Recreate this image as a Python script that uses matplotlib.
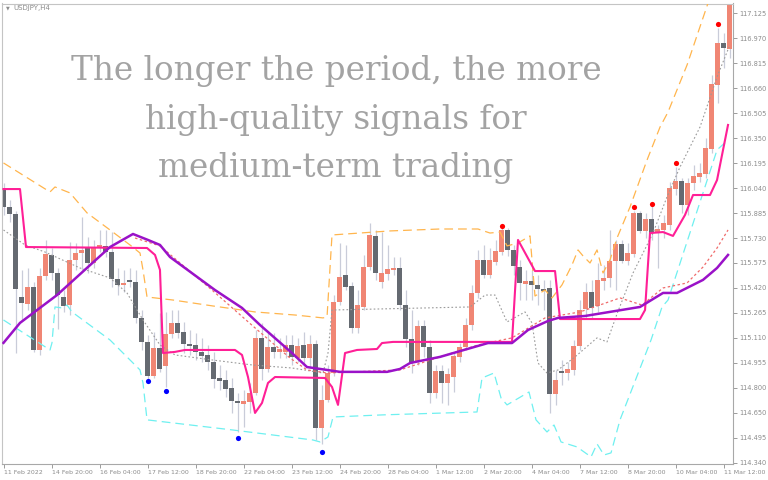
import matplotlib
matplotlib.use("Agg")
import matplotlib.pyplot as plt

# USDJPY H4 candles, bar 0 = 11 Feb 2022 12:00
opens = [116.040, 115.923, 115.879, 115.364, 115.321, 115.426, 115.035, 115.494, 115.625, 115.513,
         115.364, 115.314, 115.594, 115.639, 115.668, 115.575, 115.668, 115.680, 115.643, 115.476,
         115.438, 115.470, 115.457, 115.234, 115.085, 114.874, 115.047, 114.936, 115.134, 115.203,
         115.147, 115.072, 115.066, 115.023, 115.004, 114.961, 114.861, 114.849, 114.799, 114.718,
         114.700, 114.712, 114.768, 115.110, 114.917, 115.054, 115.023, 115.023, 115.066, 114.985,
         115.066, 114.985, 115.072, 114.551, 114.725, 114.892, 115.333, 115.501, 115.432, 115.172,
         115.302, 115.550, 115.743, 115.457, 115.507, 115.532, 115.544, 115.314, 115.103, 114.961,
         115.184, 115.054, 114.768, 114.905, 114.830, 114.867, 114.992, 115.054, 115.190, 115.389,
         115.594, 115.501, 115.581, 115.643, 115.780, 115.656, 115.550, 115.445, 115.463, 115.438,
         115.414, 115.420, 114.762, 114.905, 114.892, 114.911, 115.060, 115.289, 115.395, 115.308,
         115.463, 115.482, 115.588, 115.693, 115.588, 115.631, 115.885, 115.774, 115.848, 115.767,
         115.780, 115.811, 116.034, 116.084, 115.935, 116.071, 116.109, 116.127, 116.283, 116.680,
         116.941, 116.904]
highs = [116.072, 115.966, 115.898, 115.532, 115.544, 115.457, 115.544, 115.718, 115.668, 115.544,
         115.407, 115.705, 115.699, 115.861, 115.736, 115.718, 115.780, 115.780, 115.767, 115.544,
         115.532, 115.544, 115.532, 115.283, 115.128, 115.147, 115.264, 115.271, 115.283, 115.283,
         115.209, 115.159, 115.141, 115.110, 115.066, 115.023, 114.942, 114.911, 114.861, 114.768,
         114.787, 114.830, 115.159, 115.203, 115.141, 115.141, 115.110, 115.128, 115.128, 115.110,
         115.147, 115.128, 115.097, 114.818, 114.942, 115.376, 115.699, 115.687, 115.457, 115.407,
         115.625, 115.823, 115.780, 115.767, 115.687, 115.612, 115.612, 115.407, 115.283, 115.221,
         115.221, 115.097, 114.942, 114.942, 114.923, 115.016, 115.079, 115.233, 115.438, 115.656,
         115.687, 115.668, 115.718, 115.792, 115.792, 115.687, 115.594, 115.532, 115.532, 115.501,
         115.470, 115.470, 114.911, 114.973, 114.961, 115.097, 115.345, 115.451, 115.470, 115.575,
         115.563, 115.780, 115.718, 115.718, 115.699, 115.898, 115.898, 115.885, 115.929, 115.811,
         115.873, 116.078, 116.171, 116.103, 116.103, 116.183, 116.196, 116.351, 116.742, 117.034,
         117.003, 117.270]
lows = [115.873, 115.829, 115.016, 115.221, 115.283, 115.023, 115.004, 115.470, 115.470, 115.165,
        115.271, 115.252, 115.532, 115.532, 115.513, 115.544, 115.643, 115.612, 115.426, 115.376,
        115.395, 115.426, 115.203, 115.035, 114.849, 114.861, 114.898, 114.805, 115.110, 115.110,
        115.016, 115.004, 114.973, 114.961, 114.911, 114.799, 114.787, 114.743, 114.644, 114.526,
        114.557, 114.644, 114.756, 114.849, 114.898, 114.985, 114.985, 114.985, 114.942, 114.961,
        114.942, 114.923, 114.476, 114.452, 114.712, 114.874, 115.314, 115.407, 115.141, 115.141,
        115.283, 115.532, 115.470, 115.420, 115.470, 115.501, 115.283, 115.054, 114.892, 114.942,
        114.992, 114.706, 114.737, 114.706, 114.693, 114.774, 114.961, 115.035, 115.159, 115.358,
        115.482, 115.482, 115.563, 115.625, 115.618, 115.501, 115.345, 115.345, 115.345, 115.314,
        115.283, 114.644, 114.693, 114.818, 114.849, 114.880, 115.035, 115.234, 115.234, 115.271,
        115.407, 115.426, 115.407, 115.575, 115.563, 115.612, 115.761, 115.730, 115.718, 115.544,
        115.730, 115.780, 115.997, 115.885, 115.873, 116.028, 116.078, 116.103, 116.258, 116.568,
        116.786, 116.848]
closes = [115.923, 115.879, 115.414, 115.327, 115.426, 115.035, 115.494, 115.631, 115.513, 115.376,
          115.308, 115.594, 115.637, 115.656, 115.575, 115.668, 115.687, 115.643, 115.476, 115.438,
          115.451, 115.457, 115.234, 115.085, 114.874, 115.047, 114.917, 115.134, 115.203, 115.141,
          115.072, 115.060, 115.023, 114.998, 114.961, 114.855, 114.843, 114.793, 114.718, 114.706,
          114.718, 114.768, 115.110, 114.917, 115.054, 115.023, 115.041, 115.066, 114.992, 115.060,
          114.985, 115.072, 114.551, 114.725, 114.892, 115.333, 115.488, 115.426, 115.172, 115.314,
          115.550, 115.749, 115.513, 115.513, 115.538, 115.544, 115.314, 115.103, 114.961, 115.184,
          115.054, 114.768, 114.905, 114.830, 114.886, 114.998, 115.054, 115.190, 115.389, 115.594,
          115.501, 115.594, 115.650, 115.780, 115.656, 115.557, 115.451, 115.463, 115.438, 115.414,
          115.401, 114.762, 114.849, 114.892, 114.917, 115.060, 115.283, 115.395, 115.296, 115.470,
          115.482, 115.588, 115.693, 115.588, 115.637, 115.885, 115.774, 115.848, 115.761, 115.786,
          115.823, 116.040, 116.084, 115.935, 116.071, 116.115, 116.134, 116.289, 116.686, 116.941,
          116.910, 117.240]

# indicator lines, (bar, price) breakpoints
upper_x = [0, 7.75, 8.58, 11.08, 13.92, 17.75, 21.08, 22.75, 23.25, 23.92, 28.25, 34.92, 41.92, 48.58,
           53.25, 53.92, 54.75, 64.42, 72.75, 79.08, 81.08, 82.75, 83.92, 85.75, 87.75, 88.58, 90.25,
           91.42, 93.08, 94.75, 95.75, 96.58, 97.75, 98.92, 99.92, 101.08, 102.25, 104.42, 107.25,
           109.42, 110.75, 113.92, 117.42, 119.42]
upper_y = [116.196, 116.016, 116.047, 116.010, 115.886, 115.780, 115.687, 115.637, 115.532, 115.364,
           115.345, 115.308, 115.271, 115.252, 115.234, 115.240, 115.749, 115.774, 115.786, 115.786,
           115.761, 115.767, 115.681, 115.699, 115.743, 115.370, 115.407, 115.358, 115.439, 115.563,
           115.656, 115.619, 115.575, 115.656, 115.513, 115.594, 115.730, 115.923, 116.214, 116.419,
           116.512, 116.804, 117.189, 117.425]

lower_x = [0, 7.75, 8.08, 8.58, 9.75, 10.58, 11.42, 17.75, 21.08, 22.75, 23.25, 23.92, 38.25, 51.58,
           52.75, 54.08, 54.92, 63.25, 78.92, 79.75, 81.75, 82.92, 83.92, 87.58, 88.75, 90.58, 91.75,
           92.92, 95.58, 97.92, 98.92, 100.08, 101.25, 102.75, 107.92, 109.75, 110.75, 118.92, 120.75]
lower_y = [115.221, 115.035, 115.079, 115.302, 115.296, 115.314, 115.271, 115.097, 114.973, 114.911,
           114.830, 114.601, 114.538, 114.476, 114.464, 114.495, 114.619, 114.632, 114.650, 114.861,
           114.892, 114.737, 114.694, 114.774, 114.601, 114.526, 114.569, 114.464, 114.433, 114.371,
           114.452, 114.383, 114.396, 114.601, 115.097, 115.302, 115.345, 116.277, 116.339]

mid_x = [0, 3.58, 6.92, 12.75, 17.75, 20.58, 23.25, 26.08, 28.58, 34.75, 41.42, 48.08, 53.25, 54.08,
         54.75, 77.75, 80.25, 81.92, 83.92, 86.92, 88.08, 89.08, 90.58, 92.42, 95.25, 98.92, 100.58,
         102.25, 104.92, 108.25, 110.58, 112.75, 116.08, 118.92, 120.92]
mid_y = [115.780, 115.687, 115.643, 115.544, 115.482, 115.389, 115.221, 115.066, 115.004, 114.973,
         114.942, 114.923, 114.892, 115.016, 115.283, 115.302, 115.376, 115.376, 115.209, 115.271,
         115.203, 114.954, 114.892, 114.911, 114.992, 115.110, 115.085, 115.259, 115.513, 115.761,
         115.985, 116.171, 116.419, 116.730, 116.916]

stop_x = [0, 2.75, 3.75, 23.92, 25.25, 26.08, 26.58, 28.58, 30.25, 38.58, 39.75, 40.75, 41.92, 43.08,
          44.08, 45.25, 53.58, 54.75, 55.75, 56.92, 58.92, 62.25, 63.08, 64.92, 84.75, 85.75, 88.58,
          91.92, 92.75, 106.08, 106.92, 107.75, 109.92, 111.58, 113.58, 114.92, 117.75, 118.92, 120.75]
stop_y = [116.034, 116.034, 115.674, 115.668, 115.625, 115.532, 115.016, 115.023, 115.035, 115.035,
          115.004, 114.867, 114.644, 114.706, 114.830, 114.867, 114.861, 114.805, 114.694, 115.016,
          115.035, 115.041, 115.078, 115.085, 115.085, 115.718, 115.525, 115.525, 115.227, 115.227,
          115.283, 115.761, 115.767, 115.743, 115.873, 115.997, 115.997, 116.090, 116.432]

slow_x = [0, 2.75, 8.92, 17.75, 21.58, 24.08, 26.08, 27.75, 35.25, 39.75, 42.75, 48.08, 50.58, 53.92,
          56.08, 63.92, 66.08, 67.75, 72.75, 80.75, 84.75, 87.42, 90.75, 92.42, 96.92, 106.08, 109.92,
          112.25, 116.58, 118.92, 120.75]
slow_y = [115.079, 115.203, 115.376, 115.674, 115.755, 115.718, 115.687, 115.612, 115.407, 115.296,
          115.190, 115.016, 114.929, 114.911, 114.899, 114.899, 114.917, 114.954, 114.992, 115.078,
          115.078, 115.159, 115.215, 115.234, 115.246, 115.302, 115.389, 115.389, 115.470, 115.544,
          115.625]

sig_x = [21.92, 26.08, 34.75, 41.92, 47.75, 50.58, 53.92, 66.08, 72.75, 79.08, 84.75, 90.25, 96.08,
         102.75, 106.42, 109.92, 113.92, 116.58, 118.92, 120.75]
sig_y = [115.730, 115.681, 115.407, 115.172, 114.985, 114.911, 114.892, 114.911, 114.992, 115.066,
         115.110, 115.234, 115.271, 115.358, 115.314, 115.420, 115.451, 115.550, 115.668, 115.780]

buy_bars = [24, 27, 39, 53]
buy_levels = [114.843, 114.780, 114.491, 114.402]
sell_bars = [83, 105, 108, 112, 119]
sell_levels = [115.805, 115.921, 115.941, 116.194, 117.057]

ytick_vals = [117.125 - 0.155 * k for k in range(19)]
ytick_labels = ['117.125', '116.970', '116.815', '116.660', '116.505', '116.350', '116.195',
                '116.040', '115.885', '115.730', '115.575', '115.420', '115.265', '115.110',
                '114.955', '114.800', '114.650', '114.495', '114.340']
xtick_labels = ['11 Feb 2022', '14 Feb 20:00', '16 Feb 04:00', '17 Feb 12:00', '18 Feb 20:00',
                '22 Feb 04:00', '23 Feb 12:00', '24 Feb 20:00', '28 Feb 04:00', '1 Mar 12:00',
                '2 Mar 20:00', '4 Mar 04:00', '7 Mar 12:00', '8 Mar 20:00', '10 Mar 04:00',
                '11 Mar 12:00']

fig = plt.figure(figsize=(7.68, 4.8), dpi=100)
ax = fig.add_axes([2 / 768, 16 / 480, 731 / 768, 460.5 / 480])

n = len(opens)
idx = list(range(n))
up = [c >= o for o, c in zip(opens, closes)]
body_col = ['#f08674' if u else '#656a71' for u in up]
bottoms = [min(o, c) for o, c in zip(opens, closes)]
heights = [max(abs(c - o), 0.007) for o, c in zip(opens, closes)]

ax.vlines(idx, lows, highs, color='#c9ccd9', lw=0.9, zorder=1)
ax.bar(idx, heights, bottom=bottoms, width=0.82, color=body_col, linewidth=0, zorder=2)

ax.plot(upper_x, upper_y, color='#ffb54d', lw=0.9, dashes=(7, 4), zorder=3)
ax.plot(lower_x, lower_y, color='#6ff0f0', lw=0.9, dashes=(7, 4), zorder=3)
ax.plot(mid_x, mid_y, color='#9a9a9a', lw=0.8, dashes=(1.5, 2), zorder=3)
ax.plot(sig_x, sig_y, color='#f06a6a', lw=0.9, dashes=(2, 2), zorder=3)
ax.plot(stop_x, stop_y, color='#ff1f96', lw=1.5, zorder=4)
ax.plot(slow_x, slow_y, color='#9a12c8', lw=1.8, zorder=5)

ax.scatter(buy_bars, buy_levels, s=14, color='#0000ff', zorder=6, linewidths=0)
ax.scatter(sell_bars, sell_levels, s=14, color='#ff0000', zorder=6, linewidths=0)

ax.set_xlim(-0.25, 121.58)
ax.set_ylim(114.327, 117.186)

ax.yaxis.tick_right()
ax.set_yticks(ytick_vals)
ax.set_yticklabels(ytick_labels)
ax.set_xticks(list(range(0, 121, 8)))
ax.set_xticklabels(xtick_labels)
for lab in ax.get_xticklabels():
    lab.set_horizontalalignment('left')
ax.tick_params(axis='y', colors='#8c8c8c', labelsize=4.8, length=3, width=0.6, pad=1.5)
ax.tick_params(axis='x', colors='#8c8c8c', labelsize=4.5, length=3, width=0.6, pad=1.5)
for s in ax.spines.values():
    s.set_color('#c4c4c4')
    s.set_linewidth(0.8)
ax.spines['right'].set_color('#a8a8a8')
ax.spines['bottom'].set_color('#a8a8a8')

fig.text(6 / 768, 1 - 8 / 480, '\u25bc', fontsize=3.5, color='#8c8c8c', va='center')
fig.text(13 / 768, 1 - 8 / 480, 'USDJPY,H4', fontsize=5, color='#8c8c8c', va='center')

title_lines = ['The longer the period, the more', 'high-quality signals for', 'medium-term trading']
baselines = [80, 129, 177]
for line, yb in zip(title_lines, baselines):
    fig.text(336 / 768, 1 - yb / 480, line, fontsize=23.5, family='DejaVu Serif',
             color='#a3a3a3', ha='center', va='baseline')

fig.savefig('out.png', dpi=100)
